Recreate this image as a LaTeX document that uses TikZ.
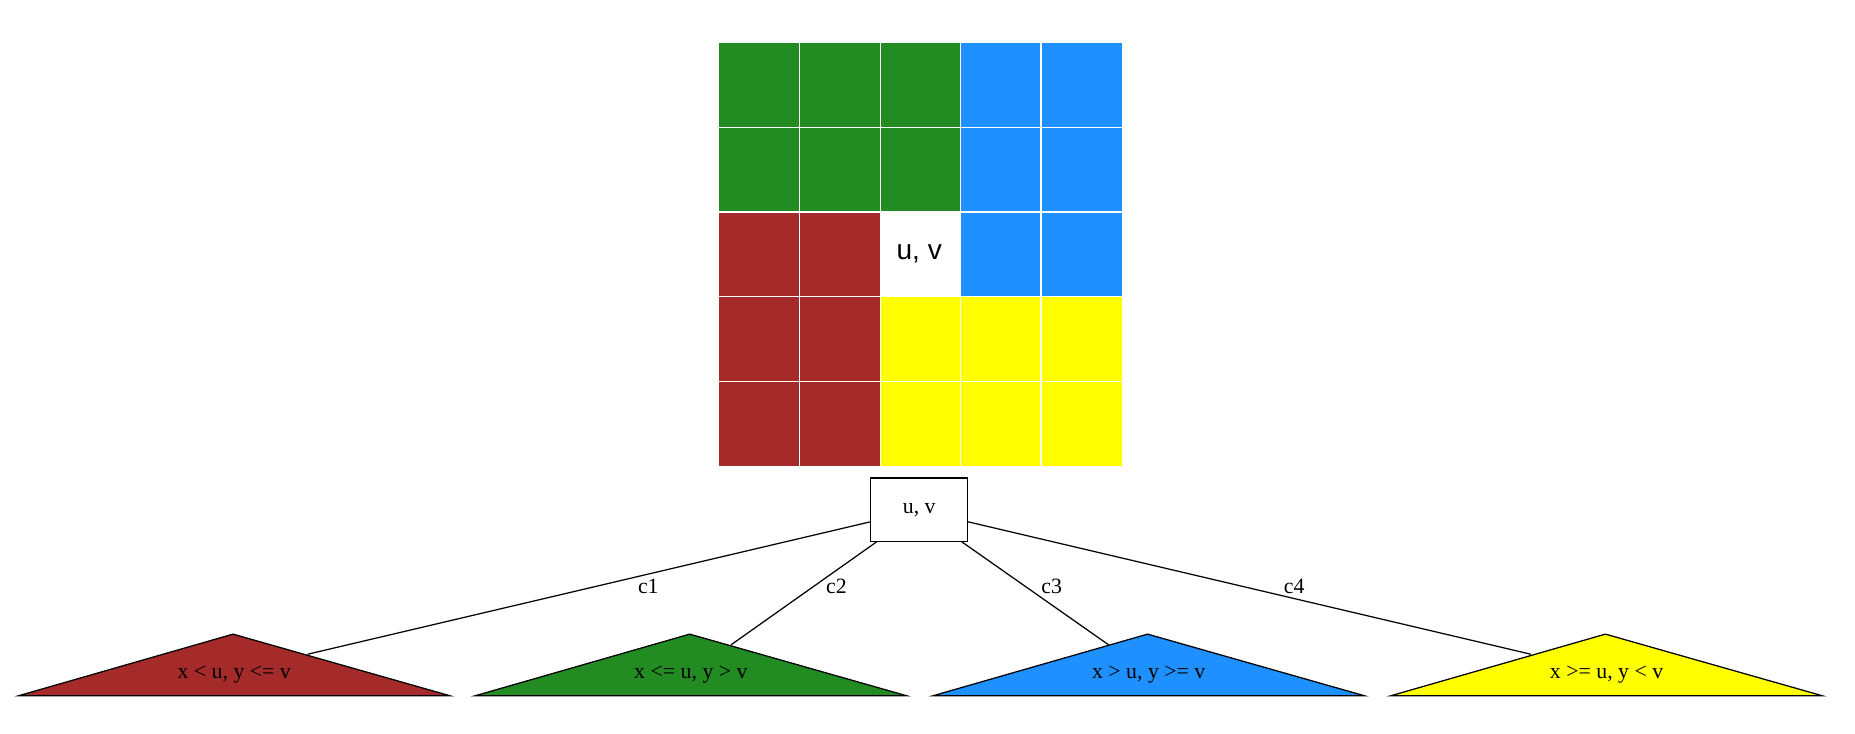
\documentclass[tikz,border=0pt]{standalone}
\usepackage{fontspec}
\setmainfont{Liberation Serif}
\newfontfamily\arialf{Liberation Sans}
\definecolor{cg}{HTML}{228B22}
\definecolor{cb}{HTML}{1E90FF}
\definecolor{cr}{HTML}{A52A2A}
\definecolor{cy}{HTML}{FFFF00}
\begin{document}
\begin{tikzpicture}[x=0.02cm,y=-0.02cm,
  cell/.style={draw=white,line width=0.5pt},
  tri/.style={draw=black,line width=0.6pt},
  edge/.style={draw=black,line width=0.6pt},
  lbl/.style={font=\fontsize{10.5}{12}\selectfont,inner sep=0pt}]
\useasboundingbox (0,0) rectangle (1568,620);
% grid
\foreach \r/\row in {0/{cg,cg,cg,cb,cb},1/{cg,cg,cg,cb,cb},2/{cr,cr,white,cb,cb},3/{cr,cr,cy,cy,cy},4/{cr,cr,cy,cy,cy}}{
  \foreach \c [count=\i from 0] in \row {
    \fill[\c] (608+\i*68,36+\r*71.6) rectangle ++(68,71.6);
  }
}
\foreach \i in {1,...,4} \draw[white,line width=0.6pt] (608+\i*68,36) -- (608+\i*68,394);
\foreach \r in {1,...,4} \draw[white,line width=0.6pt] (608,36+\r*71.6) -- (948,36+\r*71.6);
\node[font=\arialf\fontsize{13.5}{15}\selectfont] (cellt) at (777,215) {u, v};
% box
\node[draw,line width=0.6pt,minimum width=82*0.02cm,minimum height=54*0.02cm,inner sep=0pt,font=\fontsize{10.5}{12}\selectfont] (root) at (777,431) {u, v};
% triangles
\foreach \n/\x/\c/\t in {t1/16/cr/{x < u, y <= v},t2/402/cg/{x <= u, y > v},t3/789/cb/{x > u, y >= v},t4/1176/cy/{x >= u, y < v}}{
  \filldraw[tri,fill=\c] (\x,588) -- (\x+181,536) -- (\x+364,588) -- cycle;
  \node[lbl] (\n) at (\x+182,570) {\t};
}
\coordinate (e1) at (260,553);
\coordinate (e2) at (618,545);
\coordinate (e3) at (937,545);
\coordinate (e4) at (1294,553);
\coordinate (r1) at (736,441);
\coordinate (r2) at (741,458);
\coordinate (r3) at (813,458);
\coordinate (r4) at (818,441);
\draw[edge] (r1) -- (e1);
\draw[edge] (r2) -- (e2);
\draw[edge] (r3) -- (e3);
\draw[edge] (r4) -- (e4);
\node[lbl] (c1) at (548,496) {c1};
\node[lbl] (c2) at (707,496) {c2};
\node[lbl] (c3) at (889,496) {c3};
\node[lbl] (c4) at (1094,496) {c4};
\end{tikzpicture}
\end{document}
